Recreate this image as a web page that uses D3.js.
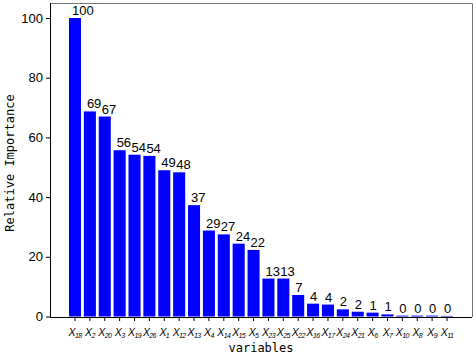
<!DOCTYPE html>
<html><head><meta charset="utf-8">
<script src="https://cdn.jsdelivr.net/npm/d3@7/dist/d3.min.js"></script>
<style>body{margin:0;background:#fff}svg{display:block}</style>
</head><body>
<svg id="chart" width="474" height="355"></svg>
<script>
const categories = ["18","2","20","3","19","26","1","12","13","4","14","15","5","23","25","22","16","17","24","21","6","7","10","8","9","11"];
const values = [100,68.7,67,55.7,54.2,53.8,49,48.3,37.3,28.8,27.5,24.4,22.3,12.7,12.7,7.2,4.3,4.0,2.4,1.6,1.3,0.7,0.3,0.3,0.3,0.2];
const valueLabels = ["100","69","67","56","54","54","49","48","37","29","27","24","22","13","13","7","4","4","2","2","1","1","0","0","0","0"];
const yTicks = [0,20,40,60,80,100];

const svg = d3.select("#chart");
const L = 50, R = 472, T = 3, B = 317;
const x = d3.scaleBand().domain(categories).range([L, R]).paddingInner(0.19).paddingOuter(1.275);
const y0 = d3.scaleLinear().domain([0,100]).range([316.5, 18]);

// frame top/right
svg.append("path").attr("d", `M${L},${T+0.5}H${R+0.5}V${B}`).attr("fill","none").attr("stroke","#777").attr("stroke-width",1);

// bars
svg.append("g").selectAll("rect").data(values).join("rect")
  .attr("x", (d,i)=>x(categories[i]))
  .attr("width", x.bandwidth())
  .attr("y", d=>y0(d))
  .attr("height", d=>y0(0)-y0(d))
  .attr("fill","#0000ff");

// value labels
svg.append("g").selectAll("text").data(values).join("text")
  .attr("x", (d,i)=>x(categories[i]) + x.bandwidth()/2 - 3)
  .attr("y", d=>y0(d) - 3)
  .attr("font-family","Liberation Sans, Arial, sans-serif")
  .attr("font-size", 13)
  .attr("fill","#000")
  .text((d,i)=>valueLabels[i]);

// y axis
const ya = svg.append("g").attr("transform",`translate(${L},0)`)
  .call(d3.axisLeft(y0).tickValues(yTicks).tickSize(4).tickSizeOuter(0).tickPadding(3));
ya.select(".domain").remove();
ya.selectAll("text").attr("font-family","Liberation Sans, Arial, sans-serif").attr("font-size",13).attr("fill","#000");
ya.selectAll("line").attr("stroke","#000");
svg.append("line").attr("x1",L+0.5).attr("x2",L+0.5).attr("y1",T).attr("y2",B+0.5).attr("stroke","#000");

// x axis
const xa = svg.append("g").attr("transform",`translate(0,${B})`)
  .call(d3.axisBottom(x).tickSize(4).tickSizeOuter(0).tickFormat(""));
xa.select(".domain").remove();
xa.selectAll("line").attr("stroke","#000");
svg.append("line").attr("x1",L).attr("x2",R).attr("y1",B+0.5).attr("y2",B+0.5).attr("stroke","#000");

const xl = svg.append("g").selectAll("text").data(categories).join("text")
  .attr("x", d=>x(d)+x.bandwidth()/2)
  .attr("y", 336)
  .attr("text-anchor","middle")
  .attr("font-family","Liberation Sans, Arial, sans-serif")
  .attr("font-style","italic")
  .attr("letter-spacing", -0.6)
  .attr("fill","#000");
xl.append("tspan").attr("font-size",10.5).text("X");
xl.append("tspan").attr("font-size",7).attr("dy",2).text(d=>d);

// axis titles
svg.append("text").attr("x",(L+R)/2).attr("y",352).attr("text-anchor","middle")
  .attr("font-family","DejaVu Sans Mono, monospace").attr("font-size",12).attr("fill","#000").text("variables");
svg.append("text").attr("transform",`translate(14,${(T+B)/2+3}) rotate(-90)`).attr("text-anchor","middle")
  .attr("font-family","DejaVu Sans Mono, monospace").attr("font-size",12).attr("fill","#000").text("Relative Importance");
</script>
</body></html>
